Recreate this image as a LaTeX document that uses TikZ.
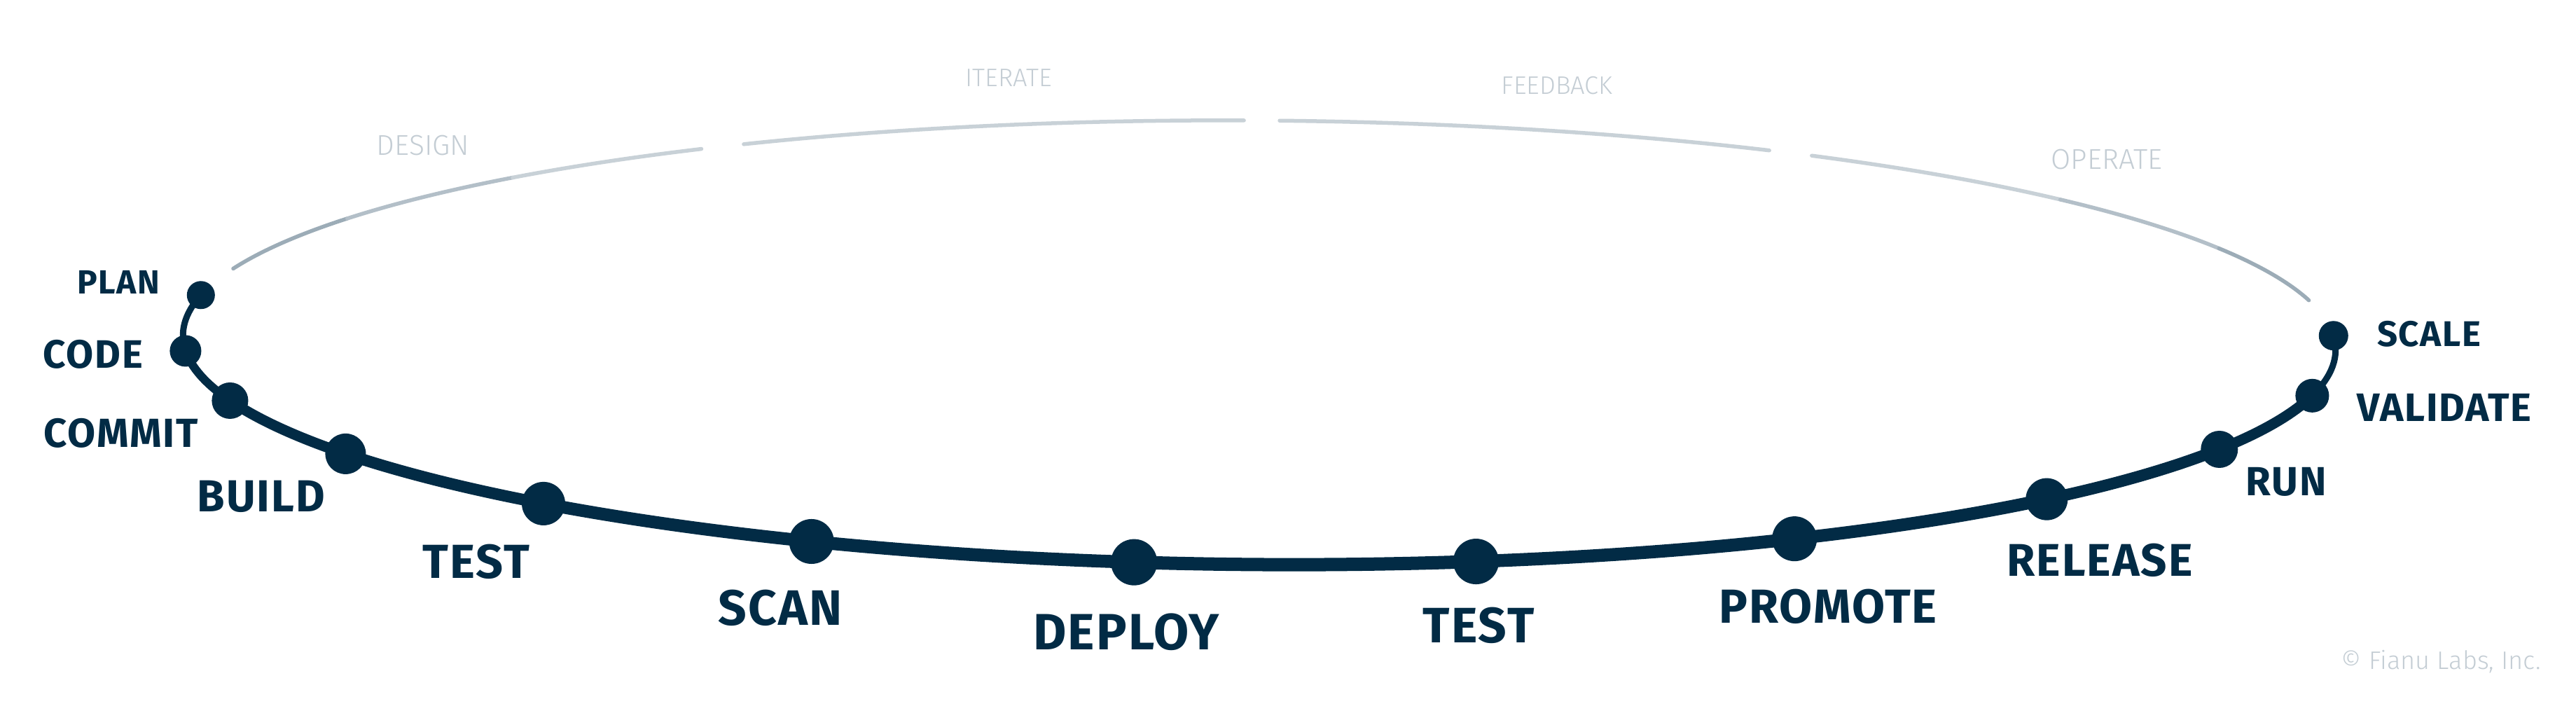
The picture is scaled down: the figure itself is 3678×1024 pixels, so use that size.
\documentclass[tikz,border=0pt]{standalone}
\usepackage{fontspec}
\setmainfont{Fira Sans}[LetterSpace=3]
\newfontfamily\thinfont{Fira Sans}[UprightFont={* Light}]

\definecolor{navy}{HTML}{022B45}
\definecolor{arcDark}{HTML}{9CACB7}
\definecolor{arcMid}{HTML}{B3BFC8}
\definecolor{arcLight}{HTML}{C8D1D7}
\definecolor{faint}{HTML}{C4CDD4}

\tikzset{
  stage/.style={circle, fill=navy, inner sep=0pt},
  trail/.style={draw=navy, line cap=round},
  orbit/.style={line width=0.055cm, line cap=round},
  tag/.style={text=navy, inner sep=0pt, font=\bfseries\fontsize{#1}{#1}\selectfont},
  phase/.style={text=faint, inner sep=0pt, font=\thinfont\fontsize{#1}{#1}\selectfont},
}

\begin{document}
\begin{tikzpicture}[x=0.01cm, y=-0.01cm]
			\useasboundingbox (0,0) rectangle (3678,1024);
			
			\begin{scope}[shift={(1798,489)}, rotate=-0.4]
			
			% upper half, grey
			\draw[orbit, arcDark] (197.5:1537 and 317) arc[start angle=197.5, end angle=212, x radius=1537, y radius=317];
			\draw[orbit, arcMid] (212:1537 and 317) arc[start angle=212, end angle=226, x radius=1537, y radius=317];
			\draw[orbit, arcLight] (226:1537 and 317) arc[start angle=226, end angle=238.7, x radius=1537, y radius=317];
			\draw[orbit, arcLight] (241.3:1537 and 317) arc[start angle=241.3, end angle=269.1, x radius=1537, y radius=317];
			\draw[orbit, arcLight] (271:1537 and 317) arc[start angle=271, end angle=298.2, x radius=1537, y radius=317];
			\draw[orbit, arcLight] (300.8:1537 and 317) arc[start angle=300.8, end angle=318, x radius=1537, y radius=317];
			\draw[orbit, arcMid] (318:1537 and 317) arc[start angle=318, end angle=333, x radius=1537, y radius=317];
			\draw[orbit, arcDark] (333:1537 and 317) arc[start angle=333, end angle=347.1, x radius=1537, y radius=317];
			
			% stages
			\node[stage, minimum size=0.40cm] (plan) at (190.4:1537 and 317) {};
			\node[stage, minimum size=0.45cm] (code) at (175.9:1537 and 317) {};
			\node[stage, minimum size=0.52cm] (commit) at (162.9:1537 and 317) {};
			\node[stage, minimum size=0.58cm] (build) at (148:1537 and 317) {};
			\node[stage, minimum size=0.62cm] (test) at (131.6:1537 and 317) {};
			\node[stage, minimum size=0.64cm] (scan) at (114.5:1537 and 317) {};
			\node[stage, minimum size=0.66cm] (deploy) at (96.6:1537 and 317) {};
			\node[stage, minimum size=0.65cm] (retest) at (78.3:1537 and 317) {};
			\node[stage, minimum size=0.64cm] (promote) at (60.1:1537 and 317) {};
			\node[stage, minimum size=0.60cm] (release) at (42.9:1537 and 317) {};
			\node[stage, minimum size=0.53cm] (run) at (26.8:1537 and 317) {};
			\node[stage, minimum size=0.48cm] (validate) at (11.9:1537 and 317) {};
			\node[stage, minimum size=0.42cm] (scale) at (-3.7:1537 and 317) {};
			
			% lower half, the pipeline
			\draw[trail, line width=0.09cm] (plan.center) arc[start angle=190.4, end angle=175.9, x radius=1537, y radius=317];
			\draw[trail, line width=0.12cm] (code.center) arc[start angle=175.9, end angle=162.9, x radius=1537, y radius=317];
			\draw[trail, line width=0.15cm] (commit.center) arc[start angle=162.9, end angle=148, x radius=1537, y radius=317];
			\draw[trail, line width=0.165cm] (build.center) arc[start angle=148, end angle=131.6, x radius=1537, y radius=317];
			\draw[trail, line width=0.18cm] (test.center) arc[start angle=131.6, end angle=114.5, x radius=1537, y radius=317];
			\draw[trail, line width=0.185cm] (scan.center) arc[start angle=114.5, end angle=96.6, x radius=1537, y radius=317];
			\draw[trail, line width=0.19cm] (deploy.center) arc[start angle=96.6, end angle=78.3, x radius=1537, y radius=317];
			\draw[trail, line width=0.185cm] (retest.center) arc[start angle=78.3, end angle=60.1, x radius=1537, y radius=317];
			\draw[trail, line width=0.18cm] (promote.center) arc[start angle=60.1, end angle=42.9, x radius=1537, y radius=317];
			\draw[trail, line width=0.165cm] (release.center) arc[start angle=42.9, end angle=26.8, x radius=1537, y radius=317];
			\draw[trail, line width=0.15cm] (run.center) arc[start angle=26.8, end angle=11.9, x radius=1537, y radius=317];
			\draw[trail, line width=0.09cm] (validate.center) arc[start angle=11.9, end angle=-3.7, x radius=1537, y radius=317];
			
			\end{scope}
			
			% stage labels
			\node[tag=13.6] (lPlan) at (169,403) {PLAN};
			\node[tag=16.1] (lCode) at (133,506) {CODE};
			\node[tag=16.5] (lCommit) at (173,618) {COMMIT};
			\node[tag=18.2] (lBuild) at (373,709) {BUILD};
			\node[tag=19.4] (lTest) at (680,802) {TEST};
			\node[tag=20.2] (lScan) at (1114,868) {SCAN};
			\node[tag=20.7] (lDeploy) at (1608,902) {DEPLOY};
			\node[tag=20.2] (lRetest) at (2111,893) {TEST};
			\node[tag=19.4] (lPromote) at (2610,866) {PROMOTE};
			\node[tag=18.6] (lRelease) at (2998,800) {RELEASE};
			\node[tag=16.5] (lRun) at (3264,688) {RUN};
			\node[tag=16.1] (lValidate) at (3490,582) {VALIDATE};
			\node[tag=14.5] (lScale) at (3468,477) {SCALE};
			
			% phase labels
			\node[phase=11.6] (lDesign) at (604,208) {DESIGN};
			\node[phase=10.3] (lIterate) at (1440,111) {ITERATE};
			\node[phase=10.3] (lFeedback) at (2223,122) {FEEDBACK};
			\node[phase=11.6] (lOperate) at (3008,228) {OPERATE};
			
			\node[text=faint, inner sep=0pt, anchor=base west, font=\thinfont\fontsize{10.3}{10.3}\selectfont] (credit) at (3342,955) {© Fianu Labs, Inc.};
		\end{tikzpicture}
\end{document}
